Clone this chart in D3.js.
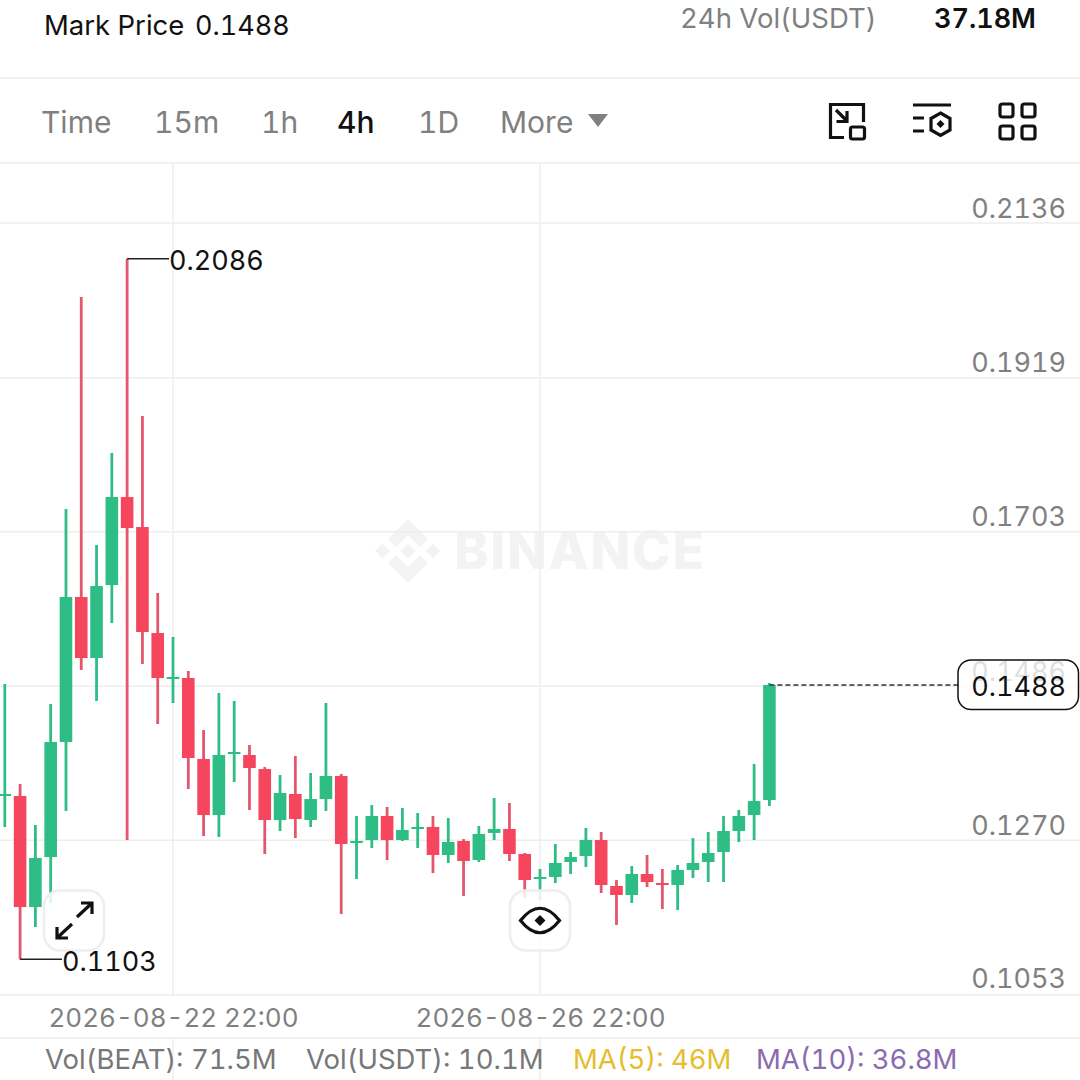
<!DOCTYPE html>
<html>
<head>
<meta charset="utf-8">
<title>BEAT 4h</title>
<script src="https://cdn.jsdelivr.net/npm/d3@7/dist/d3.min.js"></script>
<style>
  html, body { margin: 0; padding: 0; background: #fff; }
  svg { display: block; }
  text { font-family: Inter, "Noto Sans", sans-serif; font-variant-numeric: tabular-nums; font-feature-settings: 'tnum' 1; }
</style>
</head>
<body>
<div id="chart"></div>
<script>
// candles, oldest first
const opens = [.13322,.13322,.11764,.12466,.14079,.16113,.15257,.16281,.17516,.17095,.15608,.14963,.14977,.13841,.13055,.13911,.13897,.13700,.12985,.13350,.12985,.13279,.13602,.12662,.12704,.13041,.12704,.12859,.12887,.12494,.12690,.12424,.12803,.12859,.12508,.12157,.12185,.12396,.12480,.12704,.12059,.11933,.12227,.12101,.12073,.12284,.12396,.12536,.12831,.13055,.13265];
const highs = [.14893,.13490,.12915,.14612,.17348,.20322,.16843,.18133,.2086,.18652,.16169,.15552,.15075,.14247,.14766,.14654,.14037,.13728,.13616,.13883,.13644,.14626,.13630,.13041,.13195,.13167,.13153,.13083,.13041,.13013,.12718,.12901,.13294,.13223,.12522,.12298,.12648,.12536,.12873,.12817,.12143,.12340,.12494,.12298,.12354,.12732,.12817,.13041,.13125,.13770,.14907];
const lows = [.12887,.1103,.11484,.11821,.13111,.15089,.14654,.15748,.12704,.15173,.14332,.14626,.13420,.12760,.12746,.13518,.13125,.12508,.12831,.12732,.12887,.13111,.11666,.12157,.12592,.12424,.12690,.12592,.12241,.12382,.11919,.12396,.12704,.12410,.11891,.11863,.12101,.12227,.12326,.11961,.11512,.11821,.12045,.11736,.11722,.12171,.12115,.12115,.12676,.12704,.13181];
const closes = [.13350,.11764,.12452,.14079,.16113,.15257,.16267,.17516,.17081,.15622,.14977,.14991,.13855,.13055,.13897,.13939,.13714,.12985,.13364,.12999,.13279,.13602,.12648,.12690,.13041,.12704,.12845,.12887,.12494,.12676,.12410,.12789,.12859,.12508,.12143,.12185,.12382,.12466,.12704,.12073,.11933,.12227,.12115,.12073,.12284,.12382,.12522,.12831,.13041,.13251,.1488];

const price_ticks = [0.2136, 0.1919, 0.1703, 0.1486, 0.1270, 0.1053];
const time_tick_idx = [11, 35];
const time_labels = ['2026-08-22 22:00', '2026-08-26 22:00'];
const last_price = 0.1488, max_price = 0.2086, min_price = 0.1103;
const max_idx = 8, min_idx = 1;

const tabs = ['Time', '15m', '1h', '4h', '1D', 'More'];
const tab_x = [41, 154, 261, 337, 418, 500];
const vol_labels = ['Vol(BEAT): 71.5M', 'Vol(USDT): 10.1M', 'MA(5): 46M', 'MA(10): 36.8M'];
const vol_x = [45, 306, 573, 756];
const vol_colors = ['#777', '#777', '#e6bd2e', '#8a6bb0'];

const up_color = '#2ebd85';
const down_color = '#f6465d';
const grid_color = '#eeeeee';
const axis_color = '#808080';

const x = d3.scaleLinear().domain([0, 50]).range([4.8, 769.4]);
const y = d3.scaleLinear().domain([0.1053, 0.2136]).range([995, 223]);

const svg = d3.select('#chart').append('svg')
  .attr('width', 1080)
  .attr('height', 1080);

// watermark
const wm = svg.append('g').attr('fill', '#f3f3f3');
function diamond(cx, cy, r) {
  return `M${cx},${cy - r}L${cx + r},${cy}L${cx},${cy + r}L${cx - r},${cy}Z`;
}
[[408, 551, 7.5], [382.5, 551, 7.5], [433, 551, 7.5]].forEach(d => {
  wm.append('path').attr('d', diamond(d[0], d[1], d[2]));
});
wm.append('path').attr('d', 'M408,519L428,539L420,547L408,535L396,547L388,539Z');
wm.append('path').attr('d', 'M408,583L428,563L420,555L408,567L396,555L388,563Z');
wm.append('text')
  .attr('x', 454)
  .attr('y', 569)
  .attr('font-size', 52)
  .attr('font-weight', 800)
  .attr('letter-spacing', 1.8)
  .text('BINANCE');

// grid
svg.append('g').selectAll('line')
  .data(price_ticks)
  .enter()
  .append('line')
    .attr('x1', 0)
    .attr('x2', 1080)
    .attr('y1', d => y(d))
    .attr('y2', d => y(d))
    .attr('stroke', grid_color)
    .attr('stroke-width', 1.5);

svg.append('g').selectAll('g')
  .data(time_tick_idx)
  .enter()
  .append('g')
  .each(function(d) {
    d3.select(this).append('line')
      .attr('x1', x(d)).attr('x2', x(d))
      .attr('y1', 163).attr('y2', 995)
      .attr('stroke', grid_color).attr('stroke-width', 1.5);
    d3.select(this).append('line')
      .attr('x1', x(d)).attr('x2', x(d))
      .attr('y1', 1038).attr('y2', 1080)
      .attr('stroke', grid_color).attr('stroke-width', 1.5);
  });

[78, 163, 1038].forEach(v => {
  svg.append('line')
    .attr('x1', 0).attr('x2', 1080)
    .attr('y1', v).attr('y2', v)
    .attr('stroke', '#f1f1f1').attr('stroke-width', 2);
});

// candles
const candles = svg.append('g').selectAll('g')
  .data(d3.range(opens.length))
  .enter()
  .append('g')
    .attr('class', 'candle');

candles.append('line')
  .attr('x1', i => x(i))
  .attr('x2', i => x(i))
  .attr('y1', i => y(highs[i]))
  .attr('y2', i => y(lows[i]))
  .attr('stroke', i => closes[i] >= opens[i] ? up_color : '#e4566c')
  .attr('stroke-width', 2.8);

candles.append('rect')
  .attr('x', i => x(i) - 6.3)
  .attr('width', 12.6)
  .attr('y', i => y(Math.max(opens[i], closes[i])))
  .attr('height', i => Math.abs(y(opens[i]) - y(closes[i])))
  .attr('fill', i => closes[i] >= opens[i] ? up_color : down_color);

// axes
const y_ax = d3.axisLeft(y).tickValues(price_ticks).tickSize(0).tickPadding(0)
  .tickFormat(d3.format('.4f'));
const y_g = svg.append('g')
  .attr('transform', 'translate(1066,0)')
  .call(y_ax);
y_g.select('.domain').remove();
y_g.selectAll('text')
  .attr('dy', d => d == 0.1053 ? -8 : -6)
  .attr('font-size', 27)
  .attr('fill', axis_color)
  .style('font-family', 'Inter');

const x_ax = d3.axisBottom(x).tickValues(time_tick_idx).tickSize(0).tickPadding(14)
  .tickFormat((d, i) => time_labels[i]);
const x_g = svg.append('g')
  .attr('transform', 'translate(0,995)')
  .call(x_ax);
x_g.select('.domain').remove();
x_g.selectAll('text')
  .attr('font-size', 26)
  .attr('fill', axis_color)
  .style('font-family', 'Inter');

// high / low markers
function extreme_mark(idx, price, label_x, dy) {
  svg.append('line')
    .attr('x1', x(idx)).attr('x2', label_x)
    .attr('y1', y(price)).attr('y2', y(price))
    .attr('stroke', '#222').attr('stroke-width', 1.5);
  svg.append('text')
    .attr('x', label_x)
    .attr('y', y(price) + dy)
    .attr('font-size', 27)
    .attr('fill', '#111')
    .text(d3.format('.4f')(price));
}

// last price marker
svg.append('line')
  .attr('x1', x(50)).attr('x2', 958)
  .attr('y1', y(last_price)).attr('y2', y(last_price))
  .attr('stroke', '#333').attr('stroke-width', 1.5)
  .attr('stroke-dasharray', '5,3');
svg.append('rect')
  .attr('x', 958).attr('y', 660)
  .attr('width', 120.5).attr('height', 49.5)
  .attr('rx', 13)
  .attr('fill', 'rgba(255,255,255,0.75)')
  .attr('stroke', '#111').attr('stroke-width', 1.5);
svg.append('text')
  .attr('x', 1066)
  .attr('y', y(last_price) + 11)
  .attr('text-anchor', 'end')
  .attr('font-size', 27)
  .attr('fill', '#111')
  .text(d3.format('.4f')(last_price));

// floating buttons
function float_button(bx) {
  svg.append('rect')
    .attr('x', bx).attr('y', 890.5)
    .attr('width', 60).attr('height', 60)
    .attr('rx', 16)
    .attr('fill', 'rgba(255,255,255,0.85)')
    .attr('stroke', '#eeeeee').attr('stroke-width', 2.5);
}
float_button(44);
float_button(510);

extreme_mark(max_idx, max_price, 169, 11);
extreme_mark(min_idx, min_price, 62, 12);

const icon_line = { fill: 'none', stroke: '#111', 'stroke-width': 3.2 };
function icon_path(d, opts) {
  const p = svg.append('path').attr('d', d);
  Object.entries(opts || icon_line).forEach(([k, v]) => p.attr(k, v));
  return p;
}

icon_path('M77,917L92,903M81,903H92V914M72,924L57,938M57,927V938H68');
icon_path('M520.5,920.5Q540,896 559.5,920.5Q540,945 520.5,920.5Z');
icon_path(diamond(540, 920.5, 5.5), { fill: '#111' });

// header
svg.append('text').attr('x', 44).attr('y', 35).attr('font-size', 27.5).attr('fill', '#111').text('Mark Price');
svg.append('text').attr('x', 195).attr('y', 35).attr('font-size', 27).attr('fill', '#111').text('0.1488');
svg.append('text').attr('x', 680).attr('y', 28).attr('font-size', 27.5).attr('fill', axis_color).text('24h Vol(USDT)');
svg.append('text').attr('x', 934).attr('y', 28).attr('font-size', 27).attr('font-weight', 600).attr('fill', '#111').text('37.18M');

// tabs
svg.append('g').selectAll('text')
  .data(tabs)
  .enter()
  .append('text')
    .attr('x', (d, i) => tab_x[i])
    .attr('y', 133)
    .attr('font-size', 30)
    .attr('font-weight', d => d == '4h' ? 500 : 400)
    .attr('fill', d => d == '4h' ? '#111' : axis_color)
    .text(d => d);
icon_path('M588,114H608L598,127Z', { fill: axis_color });

// toolbar icons
icon_path('M844,137.5H830.5V104.5H863.5V122M836,110L847,121M836.5,121.5H847V111');
svg.append('rect').attr('x', 850.5).attr('y', 127).attr('width', 14).attr('height', 12).attr('rx', 2)
  .attr('fill', 'none').attr('stroke', '#111').attr('stroke-width', 3.2);
icon_path('M913,105H951M913,118H924M913,131H924M940.5,113L950,118.5V130L940.5,135.5L931,130V118.5Z');
icon_path(diamond(940.5, 124, 4), { fill: '#111' });
[[1000, 104], [1022, 104], [1000, 126], [1022, 126]].forEach(d => {
  svg.append('rect').attr('x', d[0]).attr('y', d[1]).attr('width', 13).attr('height', 13).attr('rx', 2.5)
    .attr('fill', 'none').attr('stroke', '#111').attr('stroke-width', 3.2);
});

// volume line
svg.append('g').selectAll('text')
  .data(vol_labels)
  .enter()
  .append('text')
    .attr('x', (d, i) => vol_x[i])
    .attr('y', 1069)
    .attr('font-size', 27.5)
    .attr('fill', (d, i) => vol_colors[i])
    .text(d => d);
</script>
</body>
</html>
